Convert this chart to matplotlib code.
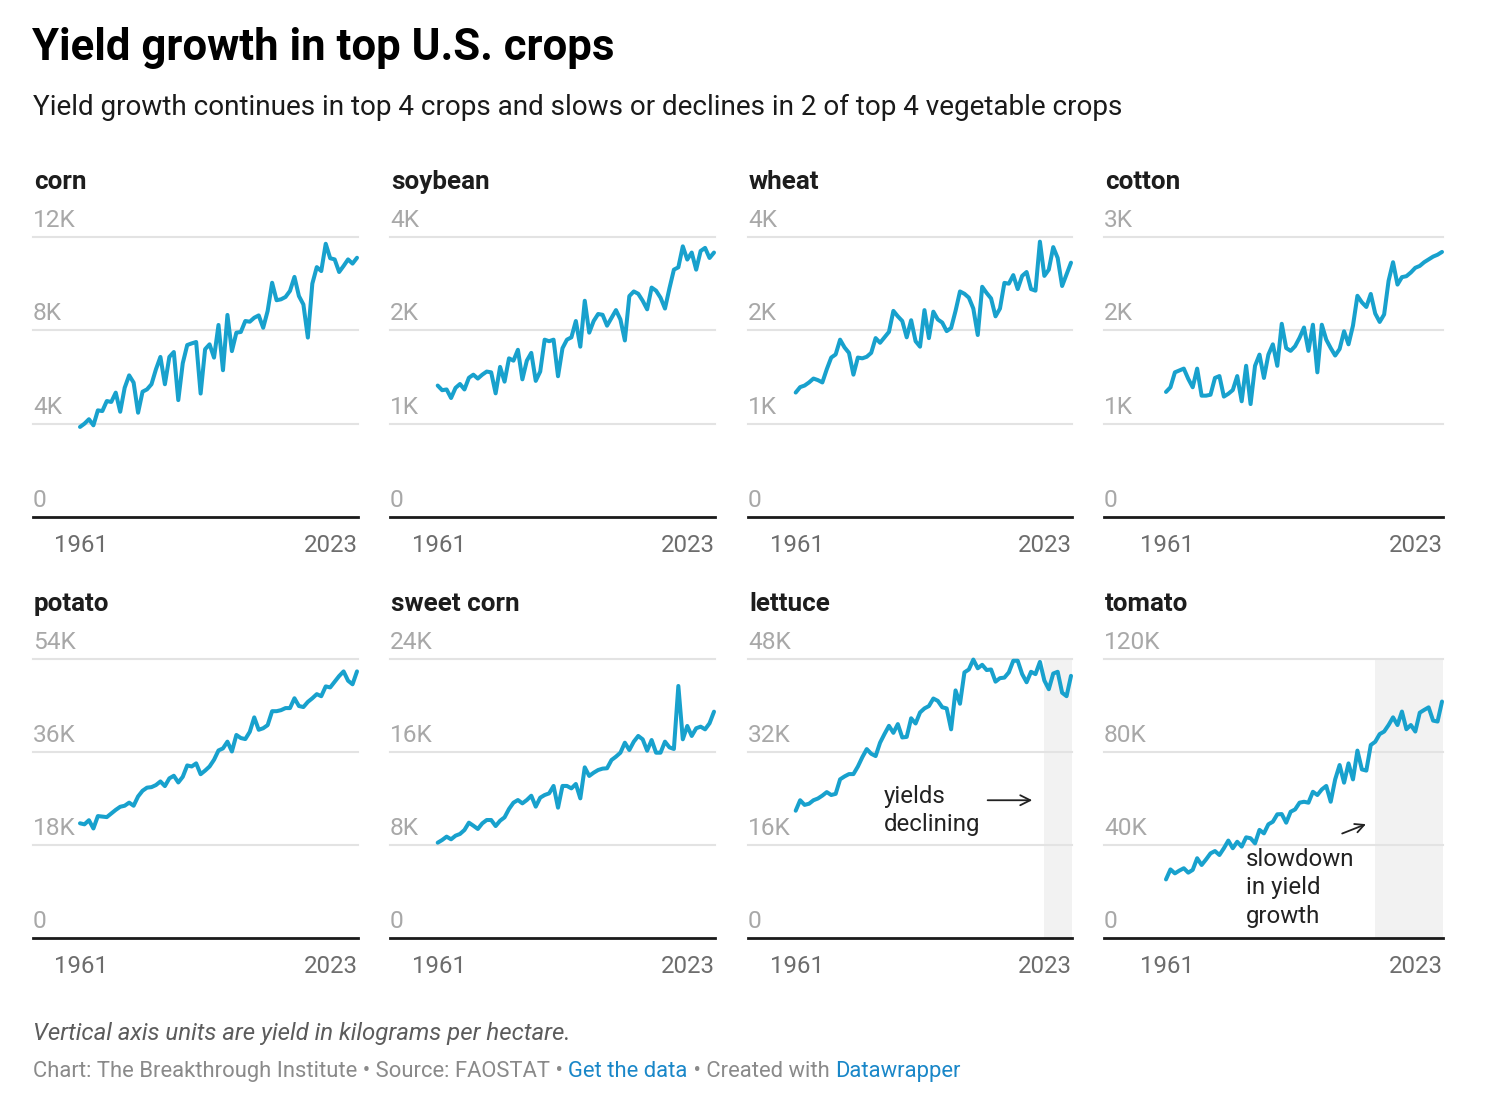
import matplotlib
matplotlib.use("Agg")
import matplotlib.pyplot as plt
import numpy as np

# ---------------- data (thousand kg per hectare) ----------------
years = list(range(1961, 2024))

crops = ["corn", "soybean", "wheat", "cotton", "potato", "sweet corn", "lettuce", "tomato"]

corn = [3.86, 4.0, 4.19, 3.93, 4.57, 4.54, 4.97, 4.93, 5.33, 4.51,
        5.54, 6.07, 5.76, 4.47, 5.37, 5.47, 5.69, 6.33, 6.86, 5.69,
        6.86, 7.07, 5.01, 6.59, 7.37, 7.44, 7.5, 5.29, 7.19, 7.4,
        6.83, 8.23, 6.29, 8.66, 7.11, 7.9, 7.93, 8.4, 8.37, 8.54,
        8.64, 8.11, 8.83, 10.04, 9.29, 9.33, 9.43, 9.69, 10.29, 9.47,
        9.11, 7.69, 10.0, 10.71, 10.54, 11.71, 11.09, 11.04, 10.5, 10.76,
        11.04, 10.86, 11.11]

soybean = [1.69, 1.63, 1.64, 1.53, 1.66, 1.71, 1.64, 1.79, 1.83, 1.78,
           1.83, 1.87, 1.86, 1.59, 1.93, 1.74, 2.04, 2.01, 2.15, 1.77,
           2.01, 2.11, 1.75, 1.87, 2.28, 2.26, 2.28, 1.81, 2.17, 2.28,
           2.31, 2.52, 2.19, 2.78, 2.37, 2.52, 2.61, 2.60, 2.46, 2.56,
           2.66, 2.54, 2.27, 2.84, 2.90, 2.87, 2.78, 2.67, 2.95, 2.91,
           2.82, 2.68, 2.94, 3.18, 3.21, 3.48, 3.31, 3.40, 3.18, 3.42,
           3.46, 3.33, 3.40]

wheat = [1.60, 1.67, 1.69, 1.73, 1.78, 1.76, 1.73, 1.90, 2.05, 2.09,
         2.28, 2.18, 2.11, 1.83, 2.05, 2.04, 2.06, 2.11, 2.30, 2.24,
         2.31, 2.38, 2.65, 2.58, 2.52, 2.31, 2.53, 2.26, 2.19, 2.66,
         2.30, 2.64, 2.54, 2.50, 2.39, 2.43, 2.65, 2.90, 2.87, 2.82,
         2.68, 2.34, 2.96, 2.88, 2.81, 2.58, 2.68, 3.01, 3.00, 3.11,
         2.93, 3.10, 3.15, 2.93, 2.91, 3.54, 3.10, 3.18, 3.47, 3.33,
         2.97, 3.12, 3.27]

cotton = [1.34, 1.39, 1.55, 1.57, 1.59, 1.48, 1.39, 1.59, 1.30, 1.30,
          1.31, 1.49, 1.51, 1.29, 1.32, 1.36, 1.51, 1.24, 1.62, 1.21,
          1.62, 1.74, 1.49, 1.74, 1.85, 1.62, 2.07, 1.81, 1.78, 1.83,
          1.92, 2.03, 1.78, 2.06, 1.55, 2.06, 1.90, 1.81, 1.73, 1.80,
          1.99, 1.85, 2.05, 2.37, 2.30, 2.25, 2.39, 2.18, 2.09, 2.17,
          2.53, 2.73, 2.49, 2.57, 2.58, 2.62, 2.67, 2.69, 2.73, 2.76,
          2.79, 2.81, 2.84]

potato = [22.2, 22.0, 22.8, 21.2, 23.6, 23.5, 23.4, 24.1, 24.8, 25.4,
          25.6, 26.2, 25.6, 27.4, 28.5, 29.1, 29.2, 29.6, 30.3, 29.4,
          30.9, 31.4, 30.1, 31.2, 33.4, 33.2, 33.8, 31.7, 32.4, 33.2,
          34.5, 36.3, 36.7, 38.0, 36.1, 39.3, 38.7, 38.5, 39.9, 42.7,
          40.3, 40.6, 41.2, 43.9, 43.9, 44.1, 44.5, 44.5, 46.4, 44.9,
          44.7, 45.7, 46.4, 47.2, 46.8, 48.7, 48.5, 49.6, 50.7, 51.6,
          49.8, 49.1, 51.6]

sweet_corn = [8.20, 8.43, 8.72, 8.49, 8.80, 8.95, 9.29, 9.92, 9.66, 9.38,
              9.86, 10.15, 10.15, 9.63, 10.09, 10.38, 11.10, 11.64, 11.87, 11.58,
              11.87, 12.24, 11.30, 12.07, 12.30, 12.44, 13.08, 11.21, 13.08, 13.08,
              12.87, 13.25, 12.01, 14.68, 13.94, 14.22, 14.45, 14.57, 14.60, 15.31,
              15.60, 15.94, 16.80, 16.17, 16.89, 17.38, 17.09, 16.11, 17.03, 15.94,
              15.94, 16.89, 16.40, 16.26, 21.68, 17.09, 18.24, 17.38, 18.04, 18.18,
              17.95, 18.47, 19.47]

lettuce = [21.9, 23.7, 22.9, 23.1, 23.7, 24.0, 24.5, 25.1, 24.6, 24.8,
           27.3, 27.8, 28.2, 28.2, 29.5, 31.1, 32.5, 31.7, 31.3, 33.6,
           35.1, 36.5, 35.3, 36.8, 34.5, 34.6, 37.8, 36.9, 38.8, 39.5,
           39.9, 41.2, 40.8, 39.7, 39.5, 35.9, 42.6, 40.3, 45.7, 46.2,
           47.9, 46.4, 47.0, 46.1, 46.2, 44.1, 44.7, 44.8, 45.7, 47.7,
           47.7, 45.4, 44.0, 45.8, 45.4, 47.5, 44.3, 42.8, 45.5, 45.8,
           42.2, 41.6, 45.1]

tomato = [25.2, 29.5, 27.8, 29.0, 30.0, 28.1, 29.3, 34.3, 31.4, 33.8,
          36.4, 37.4, 35.7, 38.6, 41.9, 38.6, 41.4, 39.3, 43.3, 42.9,
          40.7, 46.5, 45.0, 48.9, 50.0, 53.2, 53.3, 49.6, 54.3, 55.3,
          58.2, 58.6, 58.2, 62.9, 61.5, 63.9, 65.4, 58.6, 68.2, 74.4,
          66.8, 75.1, 68.2, 80.6, 72.5, 72.0, 83.0, 84.4, 87.7, 88.8,
          91.6, 94.9, 91.6, 97.4, 89.8, 91.6, 88.8, 96.9, 98.1, 99.2,
          93.5, 93.1, 101.7]

series = [corn, soybean, wheat, cotton, potato, sweet_corn, lettuce, tomato]

tick_values = [[0, 4, 8, 12], [0, 1.2, 2.4, 3.6], [0, 1.2, 2.4, 3.6], [0, 1, 2, 3],
               [0, 18, 36, 54], [0, 8, 16, 24], [0, 16, 32, 48], [0, 40, 80, 120]]
tick_labels = [["0", "4K", "8K", "12K"], ["0", "1K", "2K", "4K"], ["0", "1K", "2K", "4K"],
               ["0", "1K", "2K", "3K"], ["0", "18K", "36K", "54K"], ["0", "8K", "16K", "24K"],
               ["0", "16K", "32K", "48K"], ["0", "40K", "80K", "120K"]]

# highlighted (shaded) periods
highlight_start = {"lettuce": 2017, "tomato": 2008}

# ---------------- styling / layout ----------------
W, H = 1488, 1108
DPI = 100
LINE = "#18a1cd"
GRID = "#e3e3e3"
TICK_GRAY = "#a8a8a8"
YEAR_GRAY = "#6d6d6d"
FONT = "Roboto"

plt.rcParams["font.family"] = [FONT, "DejaVu Sans"]

fig = plt.figure(figsize=(W / DPI, H / DPI), dpi=DPI)
fig.patch.set_facecolor("white")


def fx(x):
    return x / W


def fy(y):
    return 1 - y / H


def pt(px):
    return px * 72 / DPI


# panel geometry in pixels: (left, right, data_start, data_end)
cols = [(33, 358, 80, 357), (390, 715, 437.7, 714), (748, 1072, 795.7, 1071), (1104, 1443, 1166, 1442)]
rows = [(237, 517), (659, 938)]  # (top gridline, baseline)
title_baselines = [189, 611]

for i, crop in enumerate(crops):
    r, c = divmod(i, 4)
    left, right, ds, de = cols[c]
    top, base = rows[r]
    ax = fig.add_axes([fx(left), fy(base), fx(right - left), (base - top) / H])
    ppy = (de - ds) / (years[-1] - years[0])
    x0 = years[0] - (ds - left) / ppy
    x1 = years[-1] + (right - de) / ppy
    tv = tick_values[i]
    ax.set_xlim(x0, x1)
    ax.set_ylim(0, tv[-1])
    ax.axis("off")

    if crop in highlight_start:
        ax.axvspan(highlight_start[crop], x1, ymin=0, ymax=1, color="#f2f2f2", lw=0, zorder=0)

    for t, lab in zip(tv, tick_labels[i]):
        if t != 0:
            ax.axhline(t, color=GRID, lw=1.5, zorder=1, clip_on=False)
        ax.annotate(lab, xy=(0, t), xycoords=("axes fraction", "data"),
                    xytext=(0, 10), textcoords="offset pixels",
                    ha="left", va="baseline", fontsize=pt(24.5), color=TICK_GRAY)
    ax.axhline(0, color="#1a1a1a", lw=2.0, zorder=3, clip_on=False)

    ax.plot(years, series[i], color=LINE, lw=2.9, solid_joinstyle="round",
            solid_capstyle="round", zorder=4, clip_on=False)

    # x tick labels
    ax.annotate(str(years[0]), xy=(years[0], 0), xycoords="data", xytext=(1, -35),
                textcoords="offset pixels", ha="center", va="baseline",
                fontsize=pt(24), color=YEAR_GRAY)
    ax.annotate(str(years[-1]), xy=(years[-1], 0), xycoords="data", xytext=(1, -35),
                textcoords="offset pixels", ha="right", va="baseline",
                fontsize=pt(24), color=YEAR_GRAY)

    # panel title
    fig.text(fx(left + 1), fy(title_baselines[r]), crop, fontsize=pt(26),
             fontweight="bold", color="#1d1d1d", ha="left", va="baseline")

    if crop == "lettuce":
        ax.text(1980.8, 26.4, "yields\ndeclining", fontsize=pt(24), color="#222222",
                ha="left", va="top", linespacing=1.3)
        ax.annotate("", xy=(2014.9, 23.7), xytext=(2003.6, 23.7),
                    arrowprops=dict(arrowstyle="->", color="#222222", lw=1.3,
                                    mutation_scale=18))
    if crop == "tomato":
        ax.text(1979.0, 38.8, "slowdown\nin yield\ngrowth", fontsize=pt(24), color="#222222",
                ha="left", va="top", linespacing=1.3)
        ax.annotate("", xy=(2006.5, 49.4), xytext=(2000.0, 44.5),
                    arrowprops=dict(arrowstyle="->", color="#222222", lw=1.3,
                                    mutation_scale=16))

# titles
fig.text(fx(32), fy(60), "Yield growth in top U.S. crops", fontsize=pt(43.8),
         fontweight="bold", color="#000000", ha="left", va="baseline")
fig.text(fx(33), fy(115),
         "Yield growth continues in top 4 crops and slows or declines in 2 of top 4 vegetable crops",
         fontsize=pt(27.9), color="#1a1a1a", ha="left", va="baseline")

# footer
fig.text(fx(33), fy(1040), "Vertical axis units are yield in kilograms per hectare.",
         fontsize=pt(24), style="italic", color="#5c5c5c", ha="left", va="baseline")

pieces = [("Chart: The Breakthrough Institute • Source: FAOSTAT • ", "#8a8a8a"),
          ("Get the data", "#1a87c8"),
          (" • Created with ", "#8a8a8a"),
          ("Datawrapper", "#1a87c8")]
renderer = fig.canvas.get_renderer()
xcur = 33
for txt, col in pieces:
    t = fig.text(fx(xcur), fy(1077), txt, fontsize=pt(22), color=col,
                 ha="left", va="baseline")
    bb = t.get_window_extent(renderer=renderer)
    xcur += bb.width

fig.savefig("out.png", dpi=DPI, facecolor="white")
